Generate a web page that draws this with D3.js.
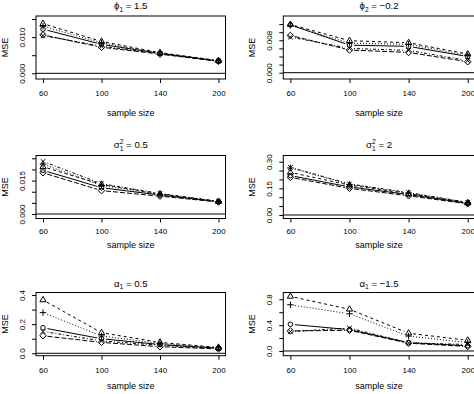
<!DOCTYPE html>
<html>
<head>
<meta charset="utf-8">
<script src="https://cdn.jsdelivr.net/npm/d3@7"></script>
<style>
  body { margin: 0; background: #fff; overflow: hidden; }
  svg { display: block; font-family: "Liberation Sans", Arial, sans-serif; }
</style>
</head>
<body>
<svg width="474" height="394"></svg>
<script>
// sample sizes on the x axis (plotted at positions 1..4)
var sampleSizes = ["60", "100", "140", "200"];

// MSE per method; method k is drawn with R's pch k and lty k
//                circle                     triangle                   plus                       cross                      diamond
var msePhi1   = [[0.0122, 0.0080, 0.0055, 0.0034], [0.0137, 0.0088, 0.0057, 0.0035], [0.0130, 0.0084, 0.0056, 0.0035], [0.0104, 0.0075, 0.0054, 0.0034], [0.0106, 0.0072, 0.0053, 0.0033]];
var msePhi2   = [[0.0118, 0.0068, 0.0065, 0.0040], [0.0119, 0.0079, 0.0074, 0.0046], [0.0117, 0.0073, 0.0070, 0.0043], [0.0088, 0.0060, 0.0055, 0.0030], [0.0092, 0.0056, 0.0050, 0.0027]];
var mseSigma1 = [[0.0196, 0.0118, 0.0085, 0.0055], [0.0212, 0.0133, 0.0090, 0.0056], [0.0224, 0.0128, 0.0088, 0.0056], [0.0236, 0.0136, 0.0092, 0.0057], [0.0185, 0.0105, 0.0080, 0.0054]];
var mseSigma2 = [[0.222, 0.158, 0.115, 0.066], [0.240, 0.168, 0.120, 0.068], [0.265, 0.172, 0.124, 0.070], [0.268, 0.175, 0.126, 0.071], [0.212, 0.150, 0.108, 0.063]];
var mseAlpha1 = [[0.175, 0.100, 0.060, 0.035], [0.366, 0.141, 0.075, 0.040], [0.279, 0.119, 0.068, 0.038], [0.150, 0.085, 0.055, 0.033], [0.120, 0.075, 0.045, 0.030]];
var mseAlpha2 = [[0.413, 0.330, 0.130, 0.080], [0.845, 0.645, 0.275, 0.165], [0.715, 0.575, 0.230, 0.130], [0.300, 0.355, 0.125, 0.100], [0.310, 0.320, 0.120, 0.070]];

// y tick values per panel
var ticksPhi1   = [0, 0.005, 0.010, 0.015];
var ticksPhi2   = [0, 0.002, 0.004, 0.006, 0.008, 0.010, 0.012];
var ticksSigma1 = [0, 0.005, 0.010, 0.015, 0.020, 0.025];
var ticksSigma2 = [0, 0.05, 0.10, 0.15, 0.20, 0.25, 0.30];
var ticksAlpha1 = [0, 0.1, 0.2, 0.3, 0.4];
var ticksAlpha2 = [0, 0.2, 0.4, 0.6, 0.8];

// panel titles: symbol, subscript, superscript, value
var titles = [
  ["ϕ", "1", "", "1.5"],
  ["ϕ", "2", "", "−0.2"],
  ["σ", "1", "2", "0.5"],
  ["σ", "1", "2", "2"],
  ["α", "1", "", "0.5"],
  ["α", "1", "", "−1.5"]
];

var panels = [
  { data: msePhi1,   ticks: ticksPhi1,   fmt: ".3f", lim: [-0.00157, 0.01583] },
  { data: msePhi2,   ticks: ticksPhi2,   fmt: ".3f", lim: [-0.00156, 0.0140] },
  { data: mseSigma1, ticks: ticksSigma1, fmt: ".3f", lim: [-0.00202, 0.02626] },
  { data: mseSigma2, ticks: ticksSigma2, fmt: ".2f", lim: [-0.0197, 0.3349] },
  { data: mseAlpha1, ticks: ticksAlpha1, fmt: ".1f", lim: [-0.0165, 0.4172] },
  { data: mseAlpha2, ticks: ticksAlpha2, fmt: ".1f", lim: [-0.073, 0.905] }
];

var colX = [[36, 225.5], [283.3, 474.8]];
var rows = [
  { top: 16,    bottom: 79,    title: 9.3,   tick: 14.3, xlab: 116.3 },
  { top: 155.5, bottom: 218.5, title: 148.3, tick: 12.5, xlab: 248 },
  { top: 292.5, bottom: 355.7, title: 286.7, tick: 14.3, xlab: 389 }
];
var dashes = [null, "3,3", "1,2", "1,2,3,2", "5,2"];
var gap = 4.5, s = 2.3;

function pchPath(k) {
  var a = Math.SQRT2 * s;
  if (k == 0) return "M" + (-s) + ",0A" + s + "," + s + " 0 1,0 " + s + ",0A" + s + "," + s + " 0 1,0 " + (-s) + ",0Z";
  if (k == 1) return "M0," + (-1.555 * s) + "L" + (1.347 * s) + "," + (0.7775 * s) + "L" + (-1.347 * s) + "," + (0.7775 * s) + "Z";
  if (k == 2) return "M" + (-a) + ",0H" + a + "M0," + (-a) + "V" + a;
  if (k == 3) return "M" + (-s) + "," + (-s) + "L" + s + "," + s + "M" + (-s) + "," + s + "L" + s + "," + (-s);
  return "M" + (-a) + ",0L0," + (-a) + "L" + a + ",0L0," + a + "Z";
}

var svg = d3.select("svg");

panels.forEach(function(p, i) {
  var r = rows[Math.floor(i / 2)], c = i % 2;
  var x = d3.scaleLinear().domain([0.88, 4.12]).range(colX[c]);
  var y = d3.scaleLinear().domain(p.lim).range([r.bottom, r.top]);
  var g = svg.append("g");
  var x0 = colX[c][0], x1 = colX[c][1];

  // horizontal reference line at zero
  g.append("line")
    .attr("x1", x0).attr("x2", x1)
    .attr("y1", y(0)).attr("y2", y(0))
    .attr("stroke", "#000").attr("stroke-width", 1);

  // lines (type = "b": segments stop short of the points)
  p.data.forEach(function(series, k) {
    var pts = series.map(function(v, j) { return [x(j + 1), y(v)]; });
    var segs = [];
    for (var j = 0; j < pts.length - 1; j++) {
      var dx = pts[j + 1][0] - pts[j][0], dy = pts[j + 1][1] - pts[j][1];
      var len = Math.sqrt(dx * dx + dy * dy);
      if (len > 2 * gap) {
        var ux = dx / len * gap, uy = dy / len * gap;
        segs.push([pts[j][0] + ux, pts[j][1] + uy, pts[j + 1][0] - ux, pts[j + 1][1] - uy]);
      }
    }
    g.selectAll(null).data(segs).enter().append("line")
      .attr("x1", function(d) { return d[0]; })
      .attr("y1", function(d) { return d[1]; })
      .attr("x2", function(d) { return d[2]; })
      .attr("y2", function(d) { return d[3]; })
      .attr("stroke", "#000").attr("stroke-width", 1)
      .attr("stroke-dasharray", dashes[k]);

    g.selectAll(null).data(pts).enter().append("path")
      .attr("transform", function(d) { return "translate(" + d[0] + "," + d[1] + ")"; })
      .attr("d", pchPath(k))
      .attr("fill", "none").attr("stroke", "#000").attr("stroke-width", 1);
  });

  // box
  g.append("rect")
    .attr("x", x0).attr("y", r.top)
    .attr("width", x1 - x0).attr("height", r.bottom - r.top)
    .attr("fill", "none").attr("stroke", "#000").attr("stroke-width", 1);

  // x axis
  var xa = g.append("g").attr("transform", "translate(0," + r.bottom + ")")
    .call(d3.axisBottom(x).tickValues([1, 2, 3, 4])
      .tickFormat(function(d) { return sampleSizes[d - 1]; })
      .tickSize(4).tickPadding(r.tick - 4 - 2.9));
  xa.select(".domain").remove();
  xa.attr("font-family", null).attr("font-size", 8);

  // y axis with rotated labels; drop labels that would overlap (as R does)
  var ya = g.append("g").attr("transform", "translate(" + x0 + ",0)")
    .call(d3.axisLeft(y).tickValues(p.ticks).tickFormat(d3.format(p.fmt)).tickSize(4));
  ya.select(".domain").remove();
  ya.attr("font-family", null).attr("font-size", 8);
  var last = null;
  ya.selectAll(".tick text")
    .attr("x", 0).attr("dy", null)
    .attr("text-anchor", "middle")
    .attr("transform", "translate(-11,0) rotate(-90)")
    .each(function(d) {
      var w = this.getComputedTextLength(), pos = y(d);
      if (last && Math.abs(last.pos - pos) < (last.w + w) / 2 + 8) {
        d3.select(this).remove();
      } else {
        last = { pos: pos, w: w };
      }
    });

  // title
  var t = titles[i];
  var tt = g.append("text")
    .attr("x", (x0 + x1) / 2).attr("y", r.title)
    .attr("text-anchor", "middle").attr("font-size", 9.6);
  tt.append("tspan").text(t[0]);
  tt.append("tspan").attr("font-size", 6.7).attr("dy", 2.3).text(t[1]);
  var back = 2.3;
  if (t[2]) {
    tt.append("tspan").attr("font-size", 6.7).attr("dx", -3.7).attr("dy", -6.8).text(t[2]);
    back = -4.5;
  }
  tt.append("tspan").attr("dy", -back).text(" = " + t[3]);

  // axis titles
  g.append("text")
    .attr("x", (x0 + x1) / 2).attr("y", r.xlab)
    .attr("text-anchor", "middle").attr("font-size", 9)
    .text("sample size");
  g.append("text")
    .attr("transform", "translate(" + (x0 - 28.3) + "," + ((r.top + r.bottom) / 2) + ") rotate(-90)")
    .attr("text-anchor", "middle").attr("font-size", 9)
    .text("MSE");
});
</script>
</body>
</html>
